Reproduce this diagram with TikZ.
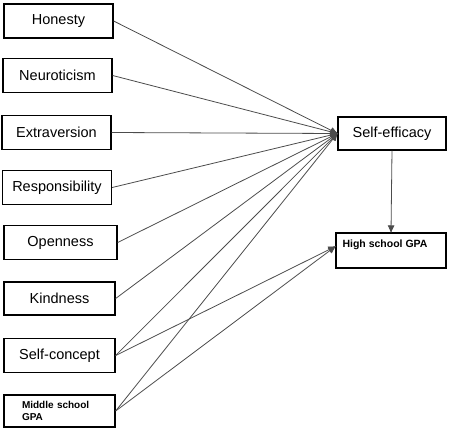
\documentclass[tikz,border=0pt]{standalone}
\usepackage{fontspec}
\setmainfont{Liberation Sans}
\usepackage{tikz}
\usetikzlibrary{arrows.meta,positioning,calc}

\tikzset{
	trait/.style={draw=black,line width=1.3pt,minimum width=109pt,minimum height=34pt,inner sep=0pt,font=\fontsize{14.5}{16}\selectfont},
	link/.style={-{Latex[length=8pt,width=7pt]},line width=0.8pt,draw=black!70,shorten >=-1pt},
}

\begin{document}
\begin{tikzpicture}[x=1pt,y=-1pt]
		\useasboundingbox (0,0) rectangle (455,429);
		\node[trait] (hon) at (58.5,21) {Honesty};
		\node[trait] (neu) at (57.5,75.5) {Neuroticism};
		\node[trait] (ext) at (56.5,132.5) {Extraversion};
		\node[trait] (res) at (57,187.5) {Responsibility};
		\node[trait,minimum width=113pt] (ope) at (60.5,242.5) {Openness};
		\node[trait,minimum width=111pt,minimum height=33pt] (kin) at (59.5,298.5) {Kindness};
		\node[trait,minimum width=111pt] (sco) at (59.5,355.5) {Self-concept};
		\node[trait,minimum width=111pt,minimum height=32pt,font=\fontsize{10}{12}\selectfont\bfseries,align=left,text width=75pt] (msg) at (59.5,411) {Middle school\\GPA};
		\node[trait,minimum width=108pt,minimum height=33pt] (sef) at (392,133.5) {Self-efficacy};
		\node[trait,minimum width=110pt,minimum height=35pt] (hsg) at (391,250.5) {};
		\node[anchor=north west,font=\fontsize{10.5}{12}\selectfont\bfseries,inner sep=0pt] (hsgtext) at ([xshift=7pt,yshift=-7pt]hsg.north west) {High school GPA};
		% paths to self-efficacy
		\foreach \v in {hon,neu,ext,res,ope,kin,sco,msg}
			\draw[link] (\v.east) -- (sef.west);
		% paths to high school GPA
		\foreach \v in {sco,msg}
			\draw[link] (\v.east) -- ([yshift=4pt]hsg.west);
		\draw[link] (sef.south) -- (hsg.north);
	\end{tikzpicture}
\end{document}
